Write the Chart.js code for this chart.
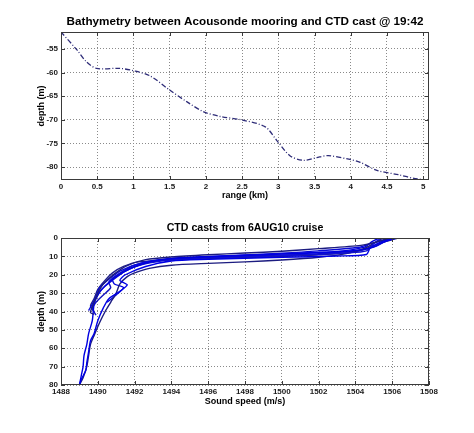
<!DOCTYPE html>
<html>
<head>
<meta charset="utf-8">
<script src="https://cdn.jsdelivr.net/npm/chart.js@4.4.1/dist/chart.umd.min.js"></script>
<style>
  html, body { margin: 0; padding: 0; background: #fff; }
  canvas { position: absolute; left: 0; }
  #bathy { top: 0; }
  #ctd { top: 210px; }
</style>
</head>
<body>
<canvas id="bathy" width="474" height="210"></canvas>
<canvas id="ctd" width="474" height="223"></canvas>
<script>
// bathymetry profile
const bathyRange = [0, 0.22, 0.35, 0.49, 0.81, 1.0, 1.23, 1.5, 1.74, 1.97, 2.2, 2.52, 2.82, 2.98, 3.16, 3.35, 3.53, 3.69, 3.99, 4.13, 4.36, 4.68, 4.87, 5.07];
const bathyDepth = [-51.4, -55.2, -57.7, -59.1, -59.1, -59.6, -60.7, -63.7, -66.2, -68.3, -69.3, -70.1, -71.5, -74.4, -77.6, -78.6, -78.0, -77.6, -78.4, -79.0, -80.7, -81.7, -82.4, -82.8];
const bathyXTicks = [0, 0.5, 1, 1.5, 2, 2.5, 3, 3.5, 4, 4.5, 5];
const bathyYTicks = [-80, -75, -70, -65, -60, -55];

// CTD casts: sound speed (m/s) vs depth (m), one array per cast
const castSpeeds = [
  [1505.8, 1505.2, 1504.3, 1502.0, 1500.0, 1498.0, 1496.0, 1494.0, 1492.6, 1491.6, 1490.9, 1490.3, 1490.0, 1489.8, 1489.6, 1489.8],
  [1506.2, 1505.6, 1505.0, 1504.0, 1502.0, 1500.0, 1498.0, 1496.0, 1494.0, 1492.8, 1491.8, 1491.0, 1490.4, 1490.0, 1489.8, 1489.7, 1489.5, 1489.4, 1489.25, 1489.2, 1489.1, 1489.0],
  [1505.4, 1505.0, 1504.6, 1503.5, 1502.0, 1500.0, 1498.0, 1496.0, 1494.0, 1492.5, 1491.5, 1490.8, 1490.2, 1489.9, 1489.7, 1489.9],
  [1506.0, 1505.3, 1504.8, 1504.6, 1503.0, 1500.0, 1498.0, 1496.0, 1494.0, 1492.6, 1491.5, 1491.2, 1491.6, 1491.2, 1490.6, 1490.3, 1490.0, 1489.8, 1489.6, 1489.5, 1489.4, 1489.35, 1489.1, 1489.0],
  [1505.5, 1505.0, 1504.4, 1503.5, 1502.0, 1500.0, 1498.0, 1496.0, 1494.0, 1492.8, 1492.0, 1491.6, 1491.2, 1491.0, 1490.7, 1490.4, 1490.1, 1489.8, 1489.6, 1489.5, 1489.4, 1489.2, 1489.0],
  [1505.9, 1505.4, 1504.7, 1504.2, 1502.0, 1500.0, 1498.0, 1496.0, 1494.0, 1492.4, 1491.2, 1490.6, 1490.1, 1489.9, 1489.7, 1489.5],
  [1506.1, 1505.7, 1505.2, 1504.4, 1502.0, 1500.0, 1498.0, 1496.0, 1494.0, 1492.7, 1491.6, 1491.0, 1490.6, 1490.7, 1490.3, 1489.9, 1489.7],
  [1505.3, 1504.9, 1504.5, 1503.0, 1500.0, 1498.0, 1496.0, 1494.0, 1492.9, 1491.9, 1491.3, 1490.8, 1490.9, 1491.4, 1491.0, 1490.5],
  [1506.3, 1505.6, 1504.9, 1504.0, 1502.0, 1500.0, 1498.0, 1496.0, 1494.0, 1492.2, 1491.4, 1490.8, 1490.4, 1490.0, 1489.8, 1489.6, 1489.8]
];
const castDepths = [
  [0, 2, 4, 5.8, 7.2, 8.2, 9.1, 10.3, 11.8, 15, 19.5, 25, 30, 35, 40.5, 41.5],
  [0, 2, 5, 6.8, 8.0, 8.8, 9.5, 10.2, 11.2, 13, 16.5, 21, 26, 31, 36, 45, 52, 58, 64, 70, 75, 80],
  [0, 3, 7, 8.2, 8.9, 9.6, 10.2, 10.8, 11.8, 14.2, 18, 23, 28, 33, 38, 42],
  [0, 2.5, 5.5, 9, 9.8, 10.5, 11, 11.6, 12.5, 15.5, 20, 23, 25.5, 29, 33, 38, 45, 52, 56, 62, 68, 72, 77, 80],
  [0, 3, 6, 8.5, 10.5, 12.0, 13.0, 13.8, 14.8, 16.5, 19, 21, 25, 30, 35, 40, 46, 53, 58, 64, 70, 76, 80],
  [0, 1.5, 3.5, 5, 7, 8.3, 9.2, 10, 11, 13.5, 18, 22.5, 27, 32, 36, 39.5],
  [0, 1.5, 4, 6.5, 8.5, 9.3, 9.9, 10.5, 11.5, 13.5, 17, 20.5, 24, 27, 31, 35, 38],
  [0, 2, 5, 7.3, 8.6, 9.4, 10.4, 11.6, 12.8, 15, 19, 22, 25, 27, 31, 35],
  [0, 2, 4.5, 7.5, 9.2, 10, 10.6, 11.2, 12, 13, 15.5, 19, 23, 28, 33, 37, 40]
];
const ctdXTicks = [1488, 1490, 1492, 1494, 1496, 1498, 1500, 1502, 1504, 1506, 1508];
const ctdYTicks = [0, 10, 20, 30, 40, 50, 60, 70, 80];

const FONT = "'Liberation Sans', Arial, sans-serif";
const castColors = ['#1c1c80', '#0000e0', '#1010d0', '#0000e6', '#1c1c80', '#0808d8', '#1414c0', '#0000dc', '#20208c'];

// box round the plot area plus small inward ticks, like the matlab axes
const framePlugin = {
  id: 'frame',
  afterDraw(chart) {
    const { ctx, chartArea: a, scales } = chart;
    ctx.save();
    ctx.strokeStyle = '#3a3a3a';
    ctx.lineWidth = 1;
    ctx.strokeRect(Math.round(a.left) + 0.5, Math.round(a.top) + 0.5, Math.round(a.width) - 1, Math.round(a.height) - 1);
    ctx.beginPath();
    scales.x.ticks.forEach(t => {
      const px = Math.round(scales.x.getPixelForValue(t.value)) + 0.5;
      ctx.moveTo(px, a.bottom); ctx.lineTo(px, a.bottom - 4);
      ctx.moveTo(px, a.top); ctx.lineTo(px, a.top + 4);
    });
    scales.y.ticks.forEach(t => {
      const py = Math.round(scales.y.getPixelForValue(t.value)) + 0.5;
      ctx.moveTo(a.left, py); ctx.lineTo(a.left + 4, py);
      ctx.moveTo(a.right, py); ctx.lineTo(a.right - 4, py);
    });
    ctx.stroke();

    // title centred over the plot area (chart.js centres it over the whole canvas)
    const t = chart.options.plugins.plotTitle;
    ctx.fillStyle = '#000';
    ctx.font = 'bold ' + t.size + 'px ' + FONT;
    ctx.textAlign = 'center';
    ctx.textBaseline = 'middle';
    ctx.fillText(t.text, (a.left + a.right) / 2, t.y);
    ctx.restore();
  }
};

function makeAxis(opts) {
  return {
    type: 'linear',
    min: opts.min,
    max: opts.max,
    reverse: !!opts.reverse,
    afterBuildTicks: s => { s.ticks = opts.ticks.map(v => ({ value: v })); },
    afterFit: s => { if (opts.width) s.width = opts.width; if (opts.height) s.height = opts.height; },
    ticks: {
      font: { family: FONT, size: 8, weight: 'bold' },
      color: '#1a1a1a',
      padding: opts.tickPad,
      maxRotation: 0,
      autoSkip: false,
      callback: v => String(v)
    },
    grid: { color: '#8a8a8a', lineWidth: 1, drawTicks: false },
    border: { display: false, dash: [1, 2] },
    title: {
      display: true,
      text: opts.title,
      color: '#000',
      font: { family: FONT, size: 9, weight: 'bold' },
      padding: opts.titlePad
    }
  };
}

function baseOptions(title, titleSize, titleY, topPad, bottomPad, x, y) {
  return {
    responsive: false,
    animation: false,
    layout: { padding: { left: 0, right: 45, top: topPad, bottom: bottomPad } },
    plugins: {
      legend: { display: false },
      tooltip: { enabled: false },
      title: { display: false },
      plotTitle: { text: title, size: titleSize, y: titleY }
    },
    scales: { x: x, y: y }
  };
}

new Chart(document.getElementById('bathy'), {
  type: 'scatter',
  data: {
    datasets: [{
      data: bathyRange.map((r, i) => ({ x: r, y: bathyDepth[i] })),
      showLine: true,
      borderColor: '#2e2c78',
      borderWidth: 1.3,
      borderDash: [5, 2, 1, 2],
      pointRadius: 0,
      tension: 0.3
    }]
  },
  options: baseOptions(
    'Bathymetry between Acousonde mooring and CTD cast @ 19:42', 11.7, 21.5, 32, 0,
    makeAxis({ min: 0, max: 5.08, ticks: bathyXTicks, height: 30, tickPad: 2.2, title: 'range (km)', titlePad: { top: 0, bottom: 8.6 } }),
    makeAxis({ min: -82.75, max: -51.4, ticks: bathyYTicks, width: 61, tickPad: 3, title: 'depth (m)', titlePad: { top: 36.6, bottom: 0 } })
  ),
  plugins: [framePlugin]
});

new Chart(document.getElementById('ctd'), {
  type: 'scatter',
  data: {
    datasets: castSpeeds.map((speeds, c) => ({
      data: speeds.map((s, i) => ({ x: s, y: castDepths[c][i] })),
      showLine: true,
      borderColor: castColors[c],
      borderWidth: 1.4,
      pointRadius: 0,
      tension: 0.25
    }))
  },
  options: baseOptions(
    'CTD casts from 6AUG10 cruise', 10.6, 18, 28, 18,
    makeAxis({ min: 1488, max: 1508, ticks: ctdXTicks, height: 30, tickPad: 2, title: 'Sound speed (m/s)', titlePad: { top: 0, bottom: 7.6 } }),
    makeAxis({ min: 0, max: 80, reverse: true, ticks: ctdYTicks, width: 61, tickPad: 3, title: 'depth (m)', titlePad: { top: 36.6, bottom: 0 } })
  ),
  plugins: [framePlugin]
});
</script>
</body>
</html>
